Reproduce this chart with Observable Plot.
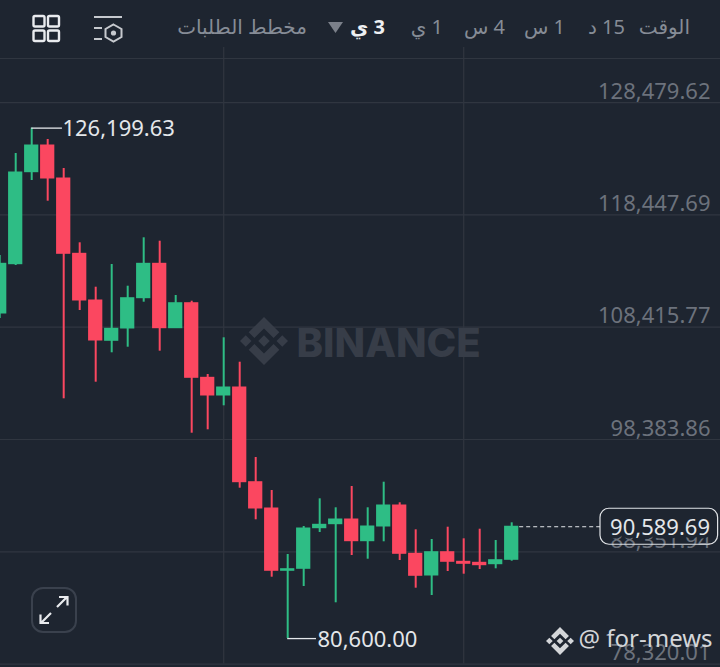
<!DOCTYPE html>
<html lang="ar">
<head>
<meta charset="utf-8">
<script src="https://cdn.jsdelivr.net/npm/d3@7"></script>
<script src="https://cdn.jsdelivr.net/npm/@observablehq/plot@0.6"></script>
<style>
html,body{margin:0;padding:0;background:#1e2530;width:720px;height:667px;overflow:hidden}
#page{position:relative;width:720px;height:667px;font-family:"Noto Sans","DejaVu Sans",sans-serif}
#head{position:relative;height:58px;border-bottom:0;box-sizing:border-box}
#head span{position:absolute;top:13px;white-space:nowrap;font-size:20px;line-height:28px;color:#868c96;direction:rtl}
#head span.on{color:#eef0f2;font-weight:700}
svg.ov{position:absolute;overflow:visible}
#chart svg{display:block;background:transparent;position:absolute;left:0;top:58px}
</style>
</head>
<body>
<div id="page">
  <div id="head"></div>
  <div id="chart"></div>
</div>
<script>
const tabs = ["الوقت", "15 د", "1 س", "4 س", "1 ي", "3 ي", "مخطط الطلبات"];
const tabRight = [30, 95, 155, 215, 277, 335, 413];
const activeTab = "3 ي";

const opens  = [109639,114043,122262,124647,121699,114972,110801,107201,108299,111006,114079,108326,110559,103895,102314,103029,94569,92220,86655,86833,90460,90818,91237,89299,90612,92488,88173,86235,88316,87459,87370,87244,87637];
const closes = [114079,122235,124647,121699,114972,110801,107227,108273,111006,114079,108326,110559,103895,102314,103029,94569,92220,86655,86798,90433,90764,91237,89299,90612,92488,88173,86208,88316,87459,87280,87155,87602,90589.69];
const highs  = [114820,123932,126199.63,125183,122592,115955,111989,114016,112078,116402,116098,111247,110738,104190,107469,105289,96776,93828,88111,90612,93086,92283,94185,92283,94569,92729,90317,89451,90550,89513,90371,89361,90943];
const lows   = [109193,113927,121520,119671,102019,109908,103502,106129,106629,110649,106272,108299,98946,99250,101394,94033,91211,86083,80600,85252,90076,83796,88021,87691,89245,87575,85100,84448,86592,86351,86771,86833,87512];
const candles = d3.range(opens.length);

const yTicks = [128479.62,118447.69,108415.77,98383.86,88351.94,78320.01];
const xGrid = [14,29];
const lastPrice = 90589.69, highPrice = 126199.63, lowPrice = 80600;
const GREEN = "#2ebd85", RED = "#fb4760", BG = "#1e2530", GRID = "#303640", LABEL = "#6c727c", TEXT = "#e4e7ea";
const fmt = d3.format(",.2f");
const isUp = i => closes[i] >= opens[i];
const font = "'Noto Sans', sans-serif";
const markFont = "Inter, 'Noto Sans', sans-serif";

const plot = Plot.plot({
  width: 720, height: 609,
  margin: 0,
  style: {background: "transparent", overflow: "visible"},
  x: {type: "linear", domain: [0,45], range: [-0.8,719.2], axis: null},
  y: {type: "linear", domain: [78320.01,128479.62], range: [605.6,44.1], axis: null},
  marks: [
    Plot.ruleY(yTicks, {stroke: GRID, strokeWidth: 1.2}),
    Plot.ruleX(xGrid, {stroke: GRID, strokeWidth: 1.2, y1: 78320.01, y2: 133400}),
    Plot.text(["BINANCE"], {frameAnchor: "top-left", dx: 296, dy: 270, text: d => d, textAnchor: "start", fill: "#373d48", fontSize: 40, fontWeight: 800, fontFamily: markFont}),
    Plot.axisY(yTicks, {anchor: "left", tickSize: 0, tickPadding: -710, tickFormat: fmt, label: null, fill: LABEL, dy: -11, fontSize: 22, fontFamily: font, textAnchor: "end"}),
    Plot.ruleX(candles, {x: i => i, y1: i => lows[i], y2: i => highs[i], stroke: i => isUp(i) ? GREEN : RED, strokeWidth: 2}),
    Plot.rect(candles, {x1: i => i-0.445, x2: i => i+0.445, y1: i => opens[i], y2: i => closes[i], fill: i => isUp(i) ? GREEN : RED, insetTop: -0.5, insetBottom: -0.5}),
    Plot.ruleY([highPrice], {x1: 2, x2: 3.92, stroke: TEXT, strokeWidth: 1.3}),
    Plot.text([highPrice], {x: 3.92, y: d => d, text: fmt, textAnchor: "start", dx: 0, dy: 1, fill: TEXT, fontSize: 22, fontFamily: font}),
    Plot.ruleY([lowPrice], {x1: 18, x2: 19.8, stroke: TEXT, strokeWidth: 1.3}),
    Plot.text([lowPrice], {x: 19.8, y: d => d, text: d => fmt(d), textAnchor: "start", dx: 1, dy: 1, fill: TEXT, fontSize: 22, fontFamily: font}),
    Plot.ruleY([lastPrice], {x1: 32.5, x2: 37.55, stroke: TEXT, strokeWidth: 1, strokeDasharray: "4,3"}),
    Plot.text([lastPrice], {frameAnchor: "right", y: d => d, dx: -10.5, dy: 1, text: d => fmt(d), textAnchor: "end", fill: TEXT, stroke: BG, strokeWidth: 7, fontSize: 22, fontFamily: font}),
    Plot.rect([lastPrice], {x1: 37.55, x2: 44.9, y1: d => d-1610, y2: d => d+1610, fill: "none", stroke: "#e0e3e6", strokeWidth: 1.2, r: 9}),
    Plot.text(["@ for-mews"], {frameAnchor: "top-left", dx: 578, dy: 571, text: d => d, textAnchor: "start", fill: "#d4d6d9", fontSize: 24, fontFamily: font})
  ]
});
document.getElementById("chart").appendChild(plot);

const head = document.getElementById("head");
tabs.forEach((t,i) => {
  const s = document.createElement("span");
  s.textContent = t;
  s.style.right = tabRight[i] + "px";
  if (t === activeTab) s.className = "on";
  head.appendChild(s);
});

const logo = (x,y,size,fill) => `<svg class="ov" style="left:${x}px;top:${y}px" width="${size}" height="${size}" viewBox="0 0 100 100" fill="${fill}">
<path d="M50 0L82 32L70 44L50 24L30 44L18 32Z"/><path d="M50 100L82 68L70 56L50 76L30 56L18 68Z"/>
<path d="M50 38L62 50L50 62L38 50Z"/><path d="M12 38L24 50L12 62L0 50Z"/><path d="M88 38L100 50L88 62L76 50Z"/></svg>`;

const page = document.getElementById("page");
page.insertAdjacentHTML("beforeend", `
<svg class="ov" style="left:0;top:0" width="720" height="60" fill="none">
  <line x1="0" x2="720" y1="58.5" y2="58.5" stroke="${GRID}" stroke-width="1.2"/>
  <g stroke="#e9ebee" stroke-width="2.4">
    <rect x="33.5" y="16" width="11" height="10.5" rx="1.5"/><rect x="48" y="16" width="11" height="10.5" rx="1.5"/>
    <rect x="33.5" y="30.5" width="11" height="10.5" rx="1.5"/><rect x="48" y="30.5" width="11" height="10.5" rx="1.5"/>
  </g>
  <g stroke="#c6c9ce" stroke-width="2">
    <line x1="94" x2="122" y1="17" y2="17"/><line x1="94" x2="102" y1="28" y2="28"/><line x1="94" x2="102" y1="39" y2="39"/>
    <path d="M113.5 24.5L121.5 29V37L113.5 41.5L105.5 37V29Z"/><circle cx="113.5" cy="33" r="2.6" fill="#c6c9ce" stroke="none"/>
  </g>
  <path d="M328 22H343L335.5 33Z" fill="#7b808a"/>
</svg>
${logo(240,317,48,"#373d48")}
${logo(546,627,28,"#d4d6d9")}
<svg class="ov" style="left:0;top:570px" width="100" height="80" fill="none">
  <rect x="32" y="18" width="44" height="44" rx="11" stroke="#3a414d" stroke-width="2"/>
  <g stroke="#e9ebee" stroke-width="2.2"><path d="M57 37L67 27M59 27H67.5V35.5"/><path d="M51 43L41 53M49 53H40.5V44.5"/></g>
</svg>`);
</script>
</body>
</html>
